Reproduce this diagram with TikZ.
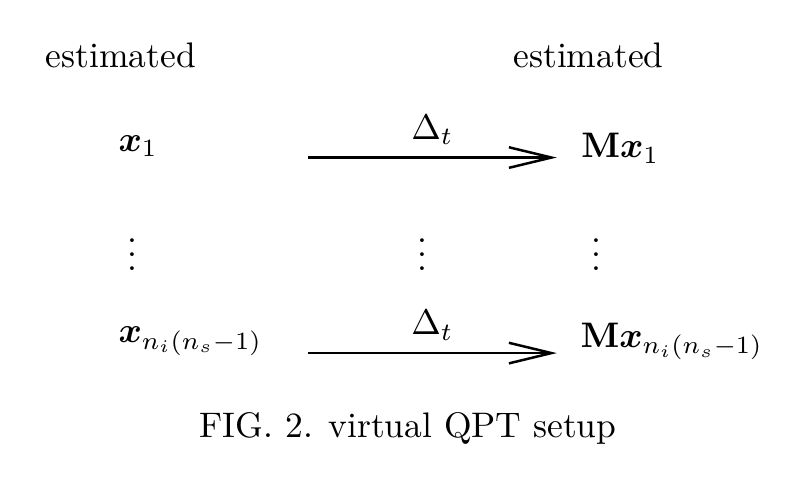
\documentclass[tikz,border=0pt]{standalone}
\usepackage{amsmath}
\usepackage{amssymb}
\usetikzlibrary{arrows.meta}

\begin{document}
\begin{tikzpicture}[>={Straight Barb[length=12pt,width=5.8pt]},auto,x=1pt,y=1pt,
		lbl/.style={anchor=base west,inner sep=0pt},
		dots/.style={anchor=south,inner sep=0pt}]
	\useasboundingbox (0,0) rectangle (226,-135.8);
			\node[lbl]  (est1) at (12.7,-18.9)  {estimated};
			\node[lbl]  (est2) at (144.5,-18.9) {estimated};
			\node[lbl]  (x1)   at (33.2,-42.6)  {$\boldsymbol{x}_1$};
			\node[lbl]  (Mx1)  at (163.6,-44.5) {$\mathbf{M}\boldsymbol{x}_1$};
			\node[dots] (d1)   at (37.2,-76.4)  {$\vdots$};
			\node[dots] (d2)   at (118.9,-76.4) {$\vdots$};
			\node[dots] (d3)   at (168.2,-76.4) {$\vdots$};
			\node[lbl]  (xn)   at (33.2,-96.6)  {$\boldsymbol{x}_{n_i(n_s-1)}$};
			\node[lbl]  (Mxn)  at (163.4,-97.8) {$\mathbf{M}\boldsymbol{x}_{n_i(n_s-1)}$};
			\coordinate (a1) at (86.8,-44.4);
			\coordinate (b1) at (156.9,-44.4);
			\coordinate (a2) at (86.8,-99.5);
			\coordinate (b2) at (156.9,-99.5);

			\path[->,line width=0.7pt]
					 (a1) edge node {$\Delta_t$} (b1)
					 (a2) edge node {$\Delta_t$} (b2);

			\node[lbl] (cap) at (56.1,-123.4) {FIG. 2. virtual QPT setup};
		\end{tikzpicture}
\end{document}
